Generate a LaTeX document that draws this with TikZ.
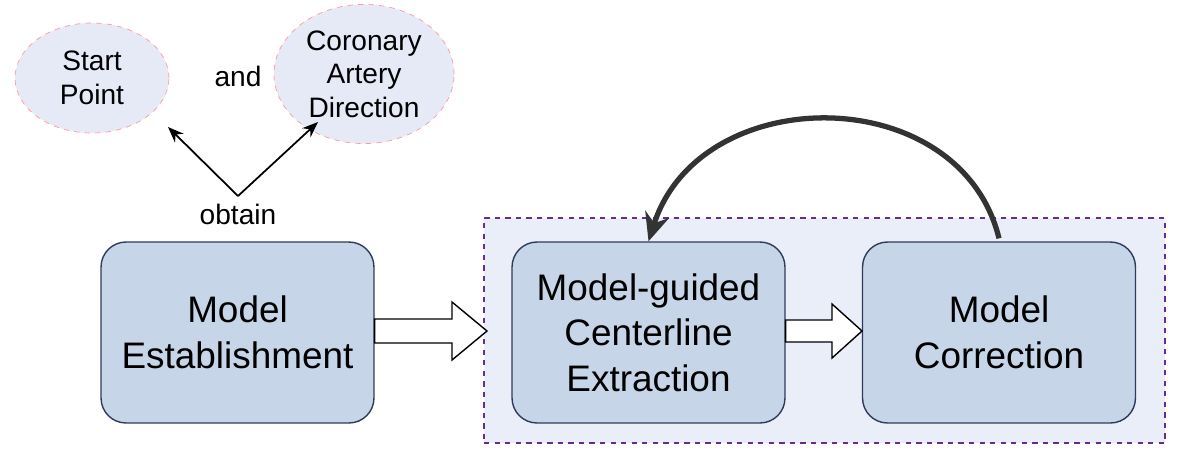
\documentclass[tikz,border=0pt]{standalone}
\usepackage{fontspec}
\setmainfont{Liberation Sans}
\usetikzlibrary{shapes.geometric,arrows.meta}
\definecolor{boxfill}{HTML}{C7D5E8}
\definecolor{boxline}{HTML}{2F3B5A}
\definecolor{ellfill}{HTML}{E6EAF6}
\definecolor{regfill}{HTML}{E9EEF8}
\definecolor{regline}{HTML}{6A2C8C}
\begin{document}
\begin{tikzpicture}[x=0.02cm,y=-0.02cm,
  box/.style={draw=boxline,fill=boxfill,rounded corners=0.5cm,line width=0.8pt,minimum width=5.46cm,minimum height=3.62cm,align=center,font=\fontsize{21}{26}\selectfont},
  ell/.style={ellipse,draw=red!40,dashed,line width=0.4pt,fill=ellfill,align=center,font=\fontsize{16}{19}\selectfont},
  lbl/.style={font=\fontsize{16}{19}\selectfont},
  blk/.style={draw=black,fill=white,line width=0.8pt}]
\useasboundingbox (0,0) rectangle (1182,460);
\node[draw=regline,dashed,fill=regfill,line width=1pt,minimum width=13.62cm,minimum height=4.5cm] (reg) at (824.5,330.5) {};
\node[ell,minimum width=3.08cm,minimum height=2.2cm] (sp) at (92,78) {Start\\Point};
\node[ell,minimum width=3.0cm,minimum height=2.32cm] (cad) at (364,74) {Coronary\\Artery\\Direction};
\node[lbl] (and) at (238,76) {and};
\node[lbl] (obt) at (238,214) {obtain};
\coordinate (o) at (238,196);
\draw[-{Stealth[length=9pt,width=7pt]},line width=1pt] (o) -- (168,127);
\draw[-{Stealth[length=9pt,width=7pt]},line width=1pt] (o) -- (318,122);
\node[box] (me) at (237.5,332.5) {Model\\Establishment};
\node[box] (mg) at (648.5,332.5) {Model-guided\\Centerline\\Extraction};
\node[box] (mc) at (999,332.5) {Model\\Correction};
\draw[blk] (me.east |- 0,319) -- (452,319) -- (452,302) -- (487,331) -- (452,360) -- (452,343) -- (me.east |- 0,343) -- cycle;
\draw[blk] (mg.east |- 0,320) -- (832,320) -- (832,304) -- (862,331) -- (832,358) -- (832,342) -- (mg.east |- 0,342) -- cycle;
\draw[line width=3pt,draw=black!80,-{Stealth[length=16pt,width=14pt]}] (mc.north) ++(0,-3) .. controls (960,80) and (700,80) .. (mg.north);
\end{tikzpicture}
\end{document}
